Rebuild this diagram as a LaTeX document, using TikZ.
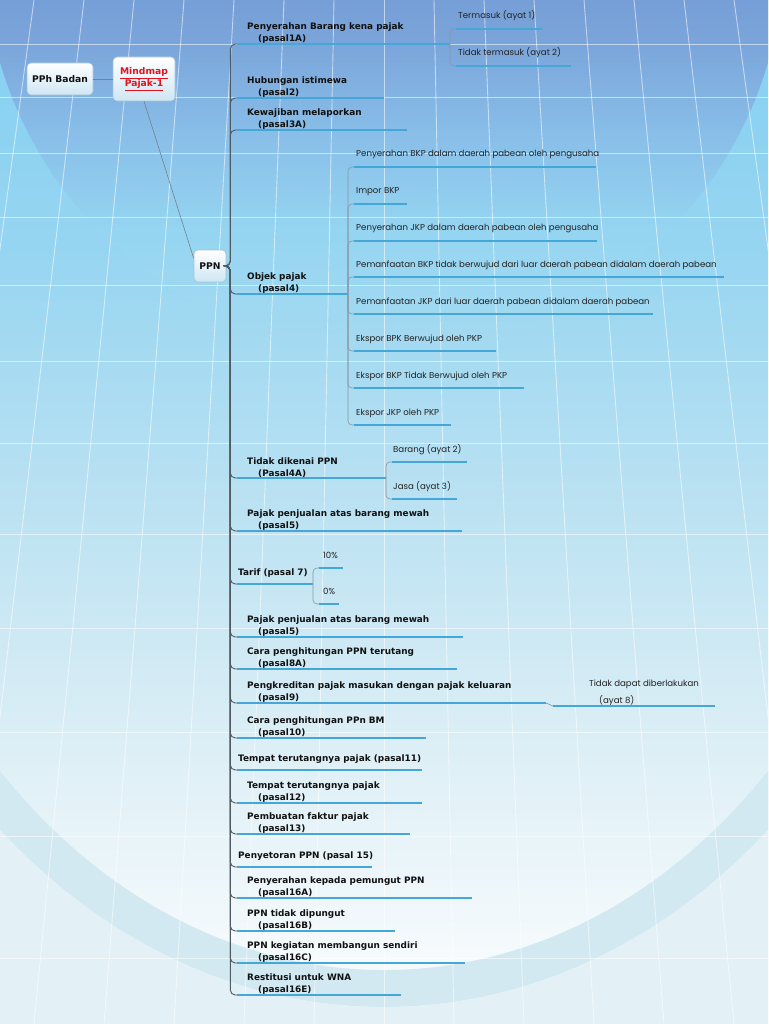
\documentclass[tikz,border=0pt]{standalone}
\usepackage{fontspec}
\setmainfont{DejaVu Sans}
\newfontfamily\kidfont{Poppins}
\definecolor{lineC}{HTML}{45A6D8}
\definecolor{trunkC}{HTML}{4F5A62}
\definecolor{forkC}{HTML}{8797A2}
\definecolor{linkC}{HTML}{72838E}
\definecolor{boxC}{HTML}{CFE6F3}
\definecolor{boxL}{HTML}{A6C3D6}
\definecolor{redC}{HTML}{E3121C}
\definecolor{inkC}{HTML}{111111}
\definecolor{kidC}{HTML}{222222}
\definecolor{skyA}{HTML}{84CFF2}
\definecolor{skyB}{HTML}{96D5F1}
\definecolor{skyC}{HTML}{BCE2F2}
\definecolor{skyD}{HTML}{DDEFF6}
\definecolor{skyE}{HTML}{F5FAFC}
\definecolor{domeA}{HTML}{7397D3}
\definecolor{domeB}{HTML}{7AA4DA}
\definecolor{domeC}{HTML}{88BDE8}
\definecolor{domeD}{HTML}{95D5F1}
\definecolor{domeE}{HTML}{A6DAF1}
\definecolor{bandC}{HTML}{D2E9F2}
\definecolor{floorC}{HTML}{E3F0F5}
\pgfdeclareverticalshading{skyfade}{100bp}{color(0bp)=(skyE); color(28.6bp)=(skyE);
  color(38.4bp)=(skyD); color(50bp)=(skyC); color(62.8bp)=(skyB); color(75bp)=(skyA); color(100bp)=(skyA)}
\pgfdeclareverticalshading{domefade}{100bp}{color(0bp)=(domeE); color(25bp)=(domeE);
  color(40.5bp)=(domeD); color(52.4bp)=(domeC); color(63.1bp)=(domeB); color(75bp)=(domeA); color(100bp)=(domeA)}

\begin{document}
\begin{tikzpicture}[
  x=1pt, y=-1pt,
  gridline/.style={draw=white, opacity=0.55, line width=0.9pt},
  topic/.style={draw=boxL, top color=white, bottom color=boxC, rounded corners=4pt,
                line width=0.6pt, align=center, inner sep=0pt,
                font=\bfseries\fontsize{9.2}{12}\selectfont, text=inkC},
  link/.style={draw=linkC, line width=0.6pt},
  trunk/.style={draw=trunkC, line width=0.9pt, rounded corners=5pt},
  fork/.style={draw=forkC, line width=0.6pt, rounded corners=4pt},
  uline/.style={draw=lineC, line width=1.3pt},
  mainlbl/.style={anchor=south west, inner xsep=0pt, inner ysep=0.6pt, align=left,
                  font=\bfseries\fontsize{8.9}{11.8}\selectfont, text=inkC},
  onelbl/.style={mainlbl, inner ysep=6.8pt},
  kidlbl/.style={anchor=base west, inner sep=0pt,
                 font=\kidfont\fontsize{8.6}{16.5}\selectfont, text=kidC},
]
\useasboundingbox (0,0) rectangle (768,1024);

% ── Background ──
\begin{scope}
  \clip (0,0) rectangle (768,1024);
  \shade[shading=skyfade] (0,0) rectangle (768,1024);
  \begin{scope}
    \clip (384,-50) circle (400pt);
    \shade[shading=domefade] (0,-60) rectangle (768,360);
  \end{scope}
  \fill[bandC, even odd rule] (384,300) ellipse (580pt and 707pt) (384,300) ellipse (540pt and 670pt);
  \begin{scope}
    \clip (0,700) rectangle (768,1024);
    \fill[floorC, even odd rule] (0,700) rectangle (768,1024) (384,300) ellipse (580pt and 707pt);
  \end{scope}
  \foreach \y in {44,97,153,217,285,361,443,534,628,732,836,958}
    \draw[gridline] (0,\y) -- (768,\y);
  \foreach \k in {-7,...,7}
    \draw[gridline] ({384+50*\k},0) -- ({384+70*\k},1024);
\end{scope}

% ── Central topics ──
\node[topic, minimum width=62pt, minimum height=44pt, text=redC] (root) at (144,79)
  {\underline{Mindmap}\\\underline{Pajak-1}};
\node[topic, minimum width=66pt, minimum height=32pt] (pph) at (60,79) {PPh Badan};
\node[topic, minimum width=32pt, minimum height=32pt] (ppn) at (210,266) {PPN};
\draw[link] (pph.east) -- (root.west);
\draw[link] (root.south) -- (ppn.155);

% ── Branch ends ──
\coordinate (b1s) at (237,44);   \coordinate (b1e) at (450,44);
\coordinate (b2s) at (237,98);   \coordinate (b2e) at (384,98);
\coordinate (b3s) at (237,130);  \coordinate (b3e) at (407,130);
\coordinate (b4s) at (237,294);  \coordinate (b4e) at (348,294);
\coordinate (b5s) at (237,478);  \coordinate (b5e) at (386,478);
\coordinate (b6s) at (237,531);  \coordinate (b6e) at (462,531);
\coordinate (b7s) at (237,584);  \coordinate (b7e) at (313,584);
\coordinate (b8s) at (237,637);  \coordinate (b8e) at (463,637);
\coordinate (b9s) at (237,669);  \coordinate (b9e) at (457,669);
\coordinate (b10s) at (237,703); \coordinate (b10e) at (546,703);
\coordinate (b11s) at (237,738); \coordinate (b11e) at (426,738);
\coordinate (b12s) at (237,770); \coordinate (b12e) at (422,770);
\coordinate (b13s) at (237,803); \coordinate (b13e) at (422,803);
\coordinate (b14s) at (237,834); \coordinate (b14e) at (410,834);
\coordinate (b15s) at (237,867); \coordinate (b15e) at (372,867);
\coordinate (b16s) at (237,898); \coordinate (b16e) at (472,898);
\coordinate (b17s) at (237,931); \coordinate (b17e) at (395,931);
\coordinate (b18s) at (237,963); \coordinate (b18e) at (465,963);
\coordinate (b19s) at (237,995); \coordinate (b19e) at (401,995);

% ── Branch labels ──
\node[mainlbl] (b1) at (247,44) {Penyerahan Barang kena pajak\\\hspace*{11pt}(pasal1A)};
\node[mainlbl] (b2) at (247,98) {Hubungan istimewa\\\hspace*{11pt}(pasal2)};
\node[mainlbl] (b3) at (247,130) {Kewajiban melaporkan\\\hspace*{11pt}(pasal3A)};
\node[mainlbl] (b4) at (247,294) {Objek pajak\\\hspace*{11pt}(pasal4)};
\node[mainlbl] (b5) at (247,478) {Tidak dikenai PPN\\\hspace*{11pt}(Pasal4A)};
\node[mainlbl] (b6) at (247,531) {Pajak penjualan atas barang mewah\\\hspace*{11pt}(pasal5)};
\node[onelbl] (b7) at (238,584) {Tarif (pasal 7)};
\node[mainlbl] (b8) at (247,637) {Pajak penjualan atas barang mewah\\\hspace*{11pt}(pasal5)};
\node[mainlbl] (b9) at (247,669) {Cara penghitungan PPN terutang\\\hspace*{11pt}(pasal8A)};
\node[mainlbl] (b10) at (247,703) {Pengkreditan pajak masukan dengan pajak keluaran\\\hspace*{11pt}(pasal9)};
\node[mainlbl] (b11) at (247,738) {Cara penghitungan PPn BM\\\hspace*{11pt}(pasal10)};
\node[onelbl] (b12) at (238,770) {Tempat terutangnya pajak (pasal11)};
\node[mainlbl] (b13) at (247,803) {Tempat terutangnya pajak\\\hspace*{11pt}(pasal12)};
\node[mainlbl] (b14) at (247,834) {Pembuatan faktur pajak\\\hspace*{11pt}(pasal13)};
\node[onelbl] (b15) at (238,867) {Penyetoran PPN (pasal 15)};
\node[mainlbl] (b16) at (247,898) {Penyerahan kepada pemungut PPN\\\hspace*{11pt}(pasal16A)};
\node[mainlbl] (b17) at (247,931) {PPN tidak dipungut\\\hspace*{11pt}(pasal16B)};
\node[mainlbl] (b18) at (247,963) {PPN kegiatan membangun sendiri\\\hspace*{11pt}(pasal16C)};
\node[mainlbl] (b19) at (247,995) {Restitusi untuk WNA\\\hspace*{11pt}(pasal16E)};

% ── PPN to branches ──
\foreach \b in {b1,b2,b3,b4,b5,b6,b7,b8,b9,b10,b11,b12,b13,b14,b15,b16,b17,b18,b19}{
  \draw[trunk] (ppn.east) -- ++(4,0) |- (\b s);
  \draw[uline] (\b s) -- (\b e);
}

% ── Sub-items: Penyerahan Barang ──
\coordinate (k11s) at (456,29); \coordinate (k11e) at (542,29);
\coordinate (k12s) at (456,66); \coordinate (k12e) at (571,66);
\node[kidlbl] (k11) at (458,19) {Termasuk (ayat 1)};
\node[kidlbl] (k12) at (458,56) {Tidak termasuk (ayat 2)};

% ── Sub-items: Objek pajak ──
\coordinate (k41s) at (354,167); \coordinate (k41e) at (596,167);
\coordinate (k42s) at (354,204); \coordinate (k42e) at (407,204);
\coordinate (k43s) at (354,241); \coordinate (k43e) at (597,241);
\coordinate (k44s) at (354,277); \coordinate (k44e) at (724,277);
\coordinate (k45s) at (354,314); \coordinate (k45e) at (653,314);
\coordinate (k46s) at (354,351); \coordinate (k46e) at (496,351);
\coordinate (k47s) at (354,388); \coordinate (k47e) at (524,388);
\coordinate (k48s) at (354,425); \coordinate (k48e) at (451,425);
\node[kidlbl] (k41) at (356,157) {Penyerahan BKP dalam daerah pabean oleh pengusaha};
\node[kidlbl] (k42) at (356,194) {Impor BKP};
\node[kidlbl] (k43) at (356,231) {Penyerahan JKP dalam daerah pabean oleh pengusaha};
\node[kidlbl] (k44) at (356,267) {Pemanfaatan BKP tidak berwujud dari luar daerah pabean didalam daerah pabean};
\node[kidlbl] (k45) at (356,304) {Pemanfaatan JKP dari luar daerah pabean didalam daerah pabean};
\node[kidlbl] (k46) at (356,341) {Ekspor BPK Berwujud oleh PKP};
\node[kidlbl] (k47) at (356,378) {Ekspor BKP Tidak Berwujud oleh PKP};
\node[kidlbl] (k48) at (356,415) {Ekspor JKP oleh PKP};

% ── Sub-items: Tidak dikenai PPN, Tarif ──
\coordinate (k51s) at (392,462); \coordinate (k51e) at (467,462);
\coordinate (k52s) at (392,499); \coordinate (k52e) at (457,499);
\node[kidlbl] (k51) at (393,452) {Barang (ayat 2)};
\node[kidlbl] (k52) at (393,489) {Jasa (ayat 3)};
\coordinate (k71s) at (319,568); \coordinate (k71e) at (343,568);
\coordinate (k72s) at (319,604); \coordinate (k72e) at (339,604);
\node[kidlbl] (k71) at (323,558) {10\%};
\node[kidlbl] (k72) at (323,594) {0\%};

% ── Sub-item: Pengkreditan ──
\coordinate (k101s) at (553,706); \coordinate (k101e) at (715,706);
\node[kidlbl, anchor=south west, align=left, inner ysep=0pt] (k101) at (589,705.5)
  {Tidak dapat diberlakukan\\\hspace*{10pt}(ayat 8)};

% ── Forks ──
\foreach \p/\k in {b1/k11,b1/k12,b4/k41,b4/k42,b4/k43,b4/k44,b4/k45,b4/k46,b4/k47,b4/k48,
                   b5/k51,b5/k52,b7/k71,b7/k72}{
  \draw[fork] (\p e) |- (\k s);
  \draw[uline] (\k s) -- (\k e);
}
\draw[fork] (b10e) to[out=0, in=180] (k101s);
\draw[uline] (k101s) -- (k101e);

\end{tikzpicture}
\end{document}
